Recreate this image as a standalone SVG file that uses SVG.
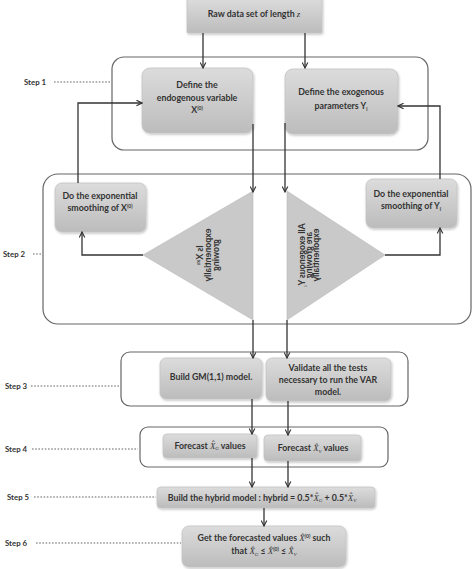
<svg xmlns="http://www.w3.org/2000/svg" width="474" height="569" viewBox="0 0 474 569">
<style>
.t{font-family:"Lato","Liberation Sans",sans-serif;font-weight:bold;font-size:8.8px;fill:#333;text-anchor:middle}
.s{font-family:"Lato","Liberation Sans",sans-serif;font-weight:bold;font-size:7.8px;fill:#333}
.m{font-family:"Liberation Serif",serif;font-style:italic;font-weight:normal}
.box{fill:url(#g);stroke:#c4c4c4;stroke-width:0.8;filter:url(#sh)}
.cont{fill:none;stroke:#666;stroke-width:1.2}
.tri{fill:#c9c9c9;stroke:#bbb;stroke-width:0.6}
.c{fill:none;stroke:#333;stroke-width:1.3;marker-end:url(#a)}
.d{fill:none;stroke:#555;stroke-width:0.9;stroke-dasharray:1.6 1.6}
</style>
<defs>
<linearGradient id="g" x1="0" y1="0" x2="0" y2="1">
<stop offset="0" stop-color="#dcdcdc"/>
<stop offset="1" stop-color="#bcbcbc"/>
</linearGradient>
<filter id="sh" x="-10%" y="-10%" width="130%" height="140%">
<feDropShadow dx="0.8" dy="1.2" stdDeviation="0.8" flood-color="#000" flood-opacity="0.25"/>
</filter>
<marker id="a" viewBox="0 0 10 10" refX="9" refY="5" markerWidth="7" markerHeight="7" markerUnits="userSpaceOnUse" orient="auto">
<polyline points="1,1 9,5 1,9" fill="none" stroke="#333" stroke-width="1.6"/>
</marker>
</defs>

<g id="containers">
<rect id="step1-frame" class="cont" x="112" y="57" width="316" height="93" rx="12"/>
<rect id="step2-frame" class="cont" x="43" y="174" width="428" height="150" rx="15"/>
<rect id="step3-frame" class="cont" x="121" y="352" width="287" height="54" rx="9"/>
<rect id="step4-frame" class="cont" x="140" y="427" width="248" height="40" rx="8"/>
</g>

<g id="step-labels">
<text class="s" x="24" y="85">Step 1</text>
<line class="d" x1="54" y1="82" x2="110" y2="82"/>
<text class="s" x="3" y="257">Step 2</text>
<line class="d" x1="33" y1="254" x2="42" y2="254"/>
<text class="s" x="5" y="389">Step 3</text>
<line class="d" x1="31" y1="386" x2="120" y2="386"/>
<text class="s" x="5" y="452">Step 4</text>
<line class="d" x1="32" y1="449" x2="138" y2="449"/>
<text class="s" x="7" y="500">Step 5</text>
<line class="d" x1="34" y1="497" x2="156" y2="497"/>
<text class="s" x="5" y="546">Step 6</text>
<line class="d" x1="36" y1="543" x2="181" y2="543"/>
</g>

<g id="raw">
<rect class="box" x="187" y="-2" width="135" height="35" rx="1"/>
<text class="t" x="254" y="17">Raw data set of length  <tspan class="m">z</tspan></text>
</g>

<g id="endog">
<rect class="box" x="142" y="68" width="111" height="65" rx="8"/>
<text class="t" x="197" y="88">Define the</text>
<text class="t" x="197" y="101">endogenous variable</text>
<text class="t" x="197" y="113">X<tspan font-size="5" dy="-3">(0)</tspan></text>
</g>

<g id="exog">
<rect class="box" x="285" y="69" width="113" height="65" rx="8"/>
<text class="t" x="341" y="95">Define the exogenous</text>
<text class="t" x="341" y="109">parameters Y<tspan font-size="5" dy="1.5">i</tspan></text>
</g>

<g id="smooth-x">
<rect class="box" x="55" y="183" width="91" height="49" rx="7"/>
<text class="t" x="100" y="199">Do the exponential</text>
<text class="t" x="100" y="211">smoothing  of X<tspan font-size="5" dy="-3">(0)</tspan></text>
</g>

<g id="smooth-y">
<rect class="box" x="366" y="179" width="91" height="49" rx="7"/>
<text class="t" x="411" y="197">Do the exponential</text>
<text class="t" x="411" y="209">smoothing of  Y<tspan font-size="5" dy="1.5">i</tspan></text>
</g>

<g id="test-x">
<polygon class="tri" points="143,255 253,191 253,320"/>
<g transform="matrix(0,1,1,0,0,0)">
<text class="t" font-size="7.5" x="255" y="203">Is X<tspan font-size="4.5" dy="-3">(0)</tspan></text>
<text class="t" font-size="7.5" x="255" y="211">exponentially</text>
<text class="t" font-size="7.5" x="255" y="219">growing</text>
</g>
</g>

<g id="test-y">
<polygon class="tri" points="287,191 287,320 385,255"/>
<g transform="matrix(0,1,1,0,0,0)">
<text class="t" font-size="7.5" x="255" y="305">All exogenous Y<tspan font-size="4.5" dy="1.5">i</tspan></text>
<text class="t" font-size="7.5" x="255" y="312">are growing</text>
<text class="t" font-size="7.5" x="255" y="319">exponentially</text>
</g>
</g>

<g id="gm">
<rect class="box" x="160" y="358" width="102" height="41" rx="6"/>
<text class="t" x="211" y="380">Build GM(1,1) model.</text>
</g>

<g id="var">
<rect class="box" x="266" y="358" width="125" height="43" rx="6"/>
<text class="t" x="328" y="371">Validate all the tests</text>
<text class="t" x="328" y="383">necessary  to run the VAR</text>
<text class="t" x="328" y="395">model.</text>
</g>

<g id="fc-g">
<rect class="box" x="163" y="434" width="94" height="24" rx="4"/>
<text class="t" x="210" y="448.5">Forecast  <tspan class="m">X̂</tspan><tspan class="m" font-size="5" dy="1.5">G</tspan><tspan dy="-1.5"> values</tspan></text>
</g>

<g id="fc-v">
<rect class="box" x="264" y="435" width="97" height="26" rx="4"/>
<text class="t" x="313" y="451">Forecast  <tspan class="m">X̂</tspan><tspan class="m" font-size="5" dy="1.5">V</tspan><tspan dy="-1.5"> values</tspan></text>
</g>

<g id="hybrid">
<rect class="box" x="157" y="487" width="218" height="21" rx="4"/>
<text class="t" x="262" y="500.5">Build the hybrid model :  hybrid = 0.5*<tspan class="m">X̂</tspan><tspan class="m" font-size="5" dy="1.5">G</tspan><tspan dy="-1.5">  +  0.5*</tspan><tspan class="m">X̂</tspan><tspan class="m" font-size="5" dy="1.5">V</tspan></text>
</g>

<g id="result">
<rect class="box" x="182" y="526" width="164" height="41" rx="7"/>
<text class="t" x="264" y="541">Get the forecasted values  <tspan class="m">X̂</tspan><tspan font-size="5" dy="-3">(0)</tspan><tspan dy="3"> such</tspan></text>
<text class="t" x="264" y="554">that  <tspan class="m">X̂</tspan><tspan class="m" font-size="5" dy="1.5">G</tspan><tspan dy="-1.5">  ≤  </tspan><tspan class="m">X̂</tspan><tspan font-size="5" dy="-3">(0)</tspan><tspan dy="3">  ≤  </tspan><tspan class="m">X̂</tspan><tspan class="m" font-size="5" dy="1.5">V</tspan></text>
</g>

<g id="connectors">
<path class="c" d="M203,33 V68"/>
<path class="c" d="M305,33 V68"/>
<path class="c" d="M78,183 V103 H142"/>
<path class="c" d="M440,179 V106 H398"/>
<path class="c" d="M253,124 V192"/>
<path class="c" d="M285,123 V192"/>
<path class="c" d="M143,255 H82 V232"/>
<path class="c" d="M385,255 H440 V228"/>
<path class="c" d="M253,320 V358"/>
<path class="c" d="M287,320 V358"/>
<path class="c" d="M252,399 V434"/>
<path class="c" d="M288,401 V435"/>
<path class="c" d="M252,458 V487"/>
<path class="c" d="M288,461 V487"/>
<path class="c" d="M264,508 V526"/>
</g>
</svg>
